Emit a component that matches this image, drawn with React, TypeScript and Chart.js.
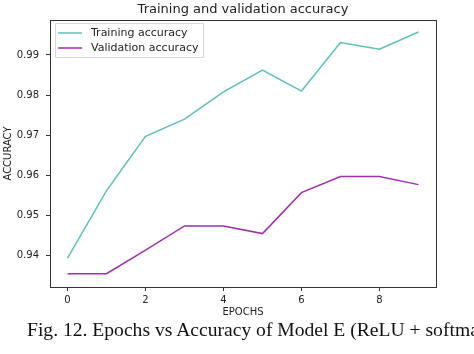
import React, { useEffect, useRef } from "react";
import { Chart, registerables } from "chart.js";

Chart.register(...registerables);

const epochs = [0, 1, 2, 3, 4, 5, 6, 7, 8, 9];
const trainingAccuracy = [0.9394, 0.9562, 0.9697, 0.9740, 0.9808, 0.9862, 0.9810, 0.9931, 0.9914, 0.9957];
const validationAccuracy = [0.9355, 0.9355, 0.9414, 0.9474, 0.9474, 0.9455, 0.9557, 0.9597, 0.9597, 0.9577];
const xTicks = [0, 2, 4, 6, 8];
const yTicks = [0.94, 0.95, 0.96, 0.97, 0.98, 0.99];
const seriesNames = ["Training accuracy", "Validation accuracy"];
const seriesColors = ["#5cc0b9", "#a02db0"];
const chartTitle = "Training and validation accuracy";
const xTitle = "EPOCHS";
const yTitle = "ACCURACY";
const caption = "Fig. 12. Epochs vs Accuracy of Model E (ReLU + softmax)";

const SANS = "'DejaVu Sans', sans-serif";

const framePlugin = {
  id: "frame",
  afterDraw(chart: any) {
    const { ctx, chartArea } = chart;
    const { left, right, top, bottom } = chartArea;
    ctx.save();
    ctx.strokeStyle = "#333333";
    ctx.lineWidth = 1;
    ctx.strokeRect(Math.round(left) + 0.5, Math.round(top) + 0.5, Math.round(right - left), Math.round(bottom - top));
    // title
    ctx.fillStyle = "#222222";
    ctx.font = `13px ${SANS}`;
    ctx.textAlign = "center";
    ctx.textBaseline = "middle";
    ctx.fillText(chartTitle, (left + right) / 2, top - 10);
    // legend
    const bx = left + 5;
    const by = top + 3;
    const bw = 148;
    const bh = 34;
    ctx.fillStyle = "rgba(255,255,255,0.85)";
    ctx.strokeStyle = "#d8d8d8";
    ctx.lineWidth = 1;
    ctx.beginPath();
    ctx.rect(bx + 0.5, by + 0.5, bw, bh);
    ctx.fill();
    ctx.stroke();
    ctx.font = `11px ${SANS}`;
    ctx.textAlign = "left";
    seriesNames.forEach((name, i) => {
      const y = by + 10 + i * 15;
      ctx.strokeStyle = seriesColors[i];
      ctx.lineWidth = 1.5;
      ctx.beginPath();
      ctx.moveTo(bx + 3, y);
      ctx.lineTo(bx + 27, y);
      ctx.stroke();
      ctx.fillStyle = "#222222";
      ctx.fillText(name, bx + 36, y);
    });
    ctx.restore();
  },
};

export default function App() {
  const ref = useRef<HTMLCanvasElement>(null);
  useEffect(() => {
    document.body.style.margin = "0";
    const c = new Chart(ref.current!, {
      type: "line",
      data: {
        datasets: seriesNames.map((name, i) => ({
          label: name,
          data: epochs.map((e, k) => ({ x: e, y: (i === 0 ? trainingAccuracy : validationAccuracy)[k] })),
          borderColor: seriesColors[i],
          backgroundColor: seriesColors[i],
          borderWidth: 1.5,
          pointRadius: 0,
          tension: 0,
          fill: false,
        })),
      },
      options: {
        responsive: false,
        animation: false,
        events: [],
        layout: { padding: { top: 20, right: 38, left: 0, bottom: 0 } },
        plugins: {
          legend: { display: false },
          title: { display: false },
          tooltip: { enabled: false },
        },
        scales: {
          x: {
            type: "linear",
            min: -0.45,
            max: 9.45,
            afterBuildTicks: (s: any) => {
              s.ticks = xTicks.map((v) => ({ value: v }));
            },
            afterFit: (s: any) => {
              s.height = 33;
            },
            grid: { display: true, drawOnChartArea: false, drawTicks: true, tickLength: 4, color: "#333333" },
            border: { display: false },
            ticks: {
              color: "#222222",
              font: { family: SANS, size: 10 },
              padding: 3,
              maxRotation: 0,
              callback: (v: any) => String(v),
            },
            title: { display: true, text: xTitle, color: "#222222", font: { family: SANS, size: 10 }, padding: { top: 2, bottom: 2 } },
          },
          y: {
            type: "linear",
            min: 0.9322,
            max: 0.9987,
            afterBuildTicks: (s: any) => {
              s.ticks = yTicks.map((v) => ({ value: v }));
            },
            afterFit: (s: any) => {
              s.width = 50;
            },
            grid: { display: true, drawOnChartArea: false, drawTicks: true, tickLength: 4, color: "#333333" },
            border: { display: false },
            ticks: {
              color: "#222222",
              font: { family: SANS, size: 10 },
              padding: 7,
              callback: (v: any) => Number(v).toFixed(2),
            },
            title: { display: true, text: yTitle, color: "#222222", font: { family: SANS, size: 10 }, padding: { top: 2, bottom: 2 } },
          },
        },
      },
      plugins: [framePlugin],
    });
    return () => c.destroy();
  }, []);
  return (
    <div style={{ position: "relative", width: 474, height: 354, overflow: "hidden", background: "#fff" }}>
      <canvas ref={ref} width={474} height={320} style={{ display: "block" }} />
      <div
        style={{
          position: "absolute",
          left: 27,
          top: 319,
          whiteSpace: "nowrap",
          fontFamily: "'Liberation Serif', 'Times New Roman', serif",
          fontSize: 19.6,
          color: "#111",
          lineHeight: "22px",
        }}
      >
        {caption}
      </div>
    </div>
  );
}
